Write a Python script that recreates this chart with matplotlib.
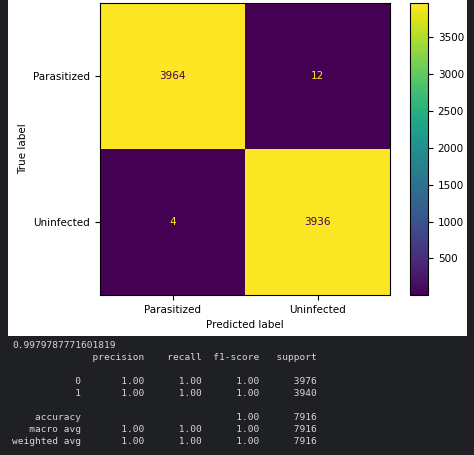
import numpy as np
import matplotlib
matplotlib.use("Agg")
import matplotlib.pyplot as plt
from matplotlib.patches import Rectangle

labels = ["Parasitized", "Uninfected"]
cm = np.array([[3964, 12], [4, 3936]])
report_lines = [
    "0.9979787771601819",
    "              precision    recall  f1-score   support",
    "",
    "           0       1.00      1.00      1.00      3976",
    "           1       1.00      1.00      1.00      3940",
    "",
    "    accuracy                           1.00      7916",
    "   macro avg       1.00      1.00      1.00      7916",
    "weighted avg       1.00      1.00      1.00      7916",
]

W, H = 474, 455
fig = plt.figure(figsize=(W/100, H/100), dpi=100)
fig.patch.set_facecolor("#1f2023")
fig.add_artist(Rectangle((8/W, 1-336/H), (467-8)/W, 336/H, transform=fig.transFigure,
                         facecolor="white", edgecolor="none", zorder=0))

ax = fig.add_axes([100/W, 1-295/H, 290/W, 292/H])
im = ax.imshow(cm, cmap="viridis", aspect="auto")
for i in range(2):
    for j in range(2):
        v = cm[i, j]
        col = "#440154" if v > cm.max()/2 else "#fde725"
        ax.text(j, i, str(v), ha="center", va="center", color=col, fontsize=7.5)
ax.set_xticks([0, 1], labels, fontsize=7.5)
ax.set_yticks([0, 1], labels, fontsize=7.5)
ax.set_xlabel("Predicted label", fontsize=7.5)
ax.set_ylabel("True label", fontsize=7.5)

cax = fig.add_axes([410/W, 1-295/H, 18/W, 292/H])
cb = fig.colorbar(im, cax=cax)
cb.set_ticks([500, 1000, 1500, 2000, 2500, 3000, 3500])
cb.ax.tick_params(labelsize=7.5)

ys = [345, 357, 369, 381, 393, 405, 418, 429, 441]
for y, line in zip(ys, report_lines):
    if line:
        fig.text(12/W, 1-y/H, line, family="DejaVu Sans Mono", fontsize=6.8,
                 color="#d8d8d8", va="center", ha="left")

fig.savefig("out.png", dpi=100, facecolor=fig.get_facecolor())
